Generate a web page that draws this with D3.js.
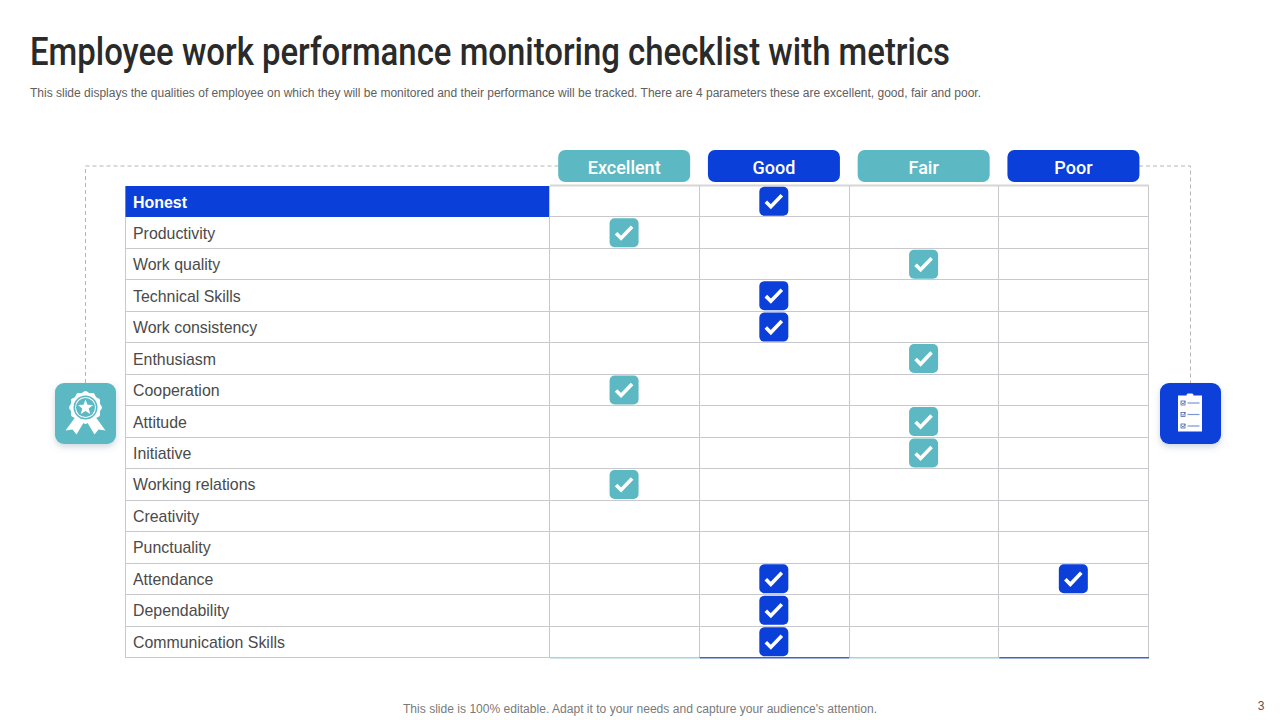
<!DOCTYPE html>
<html>
<head>
<meta charset="utf-8">
<script src="https://cdn.jsdelivr.net/npm/d3@7"></script>
<style>
  html, body { margin: 0; padding: 0; background: #fff; }
  svg { display: block; }
</style>
</head>
<body>
<svg id="chart" width="1280" height="720"></svg>
<script>
const rowLabels = [
  "Honest", "Productivity", "Work quality", "Technical Skills", "Work consistency",
  "Enthusiasm", "Cooperation", "Attitude", "Initiative", "Working relations",
  "Creativity", "Punctuality", "Attendance", "Dependability", "Communication Skills"
];
const columnLabels = ["Excellent", "Good", "Fair", "Poor"];

// which rows are ticked in each column
const excellentRows = ["Productivity", "Cooperation", "Working relations"];
const goodRows = ["Honest", "Technical Skills", "Work consistency", "Attendance", "Dependability", "Communication Skills"];
const fairRows = ["Work quality", "Enthusiasm", "Attitude", "Initiative"];
const poorRows = ["Attendance"];

const titleText = "Employee work performance monitoring checklist with metrics";
const subtitleText = "This slide displays the qualities of employee on which they will be monitored and their performance will be tracked. There are 4 parameters these are excellent, good, fair and poor.";
const footerText = "This slide is 100% editable. Adapt it to your needs and capture your audience's attention.";

const TEAL = "#5cb9c3";
const BLUE = "#0a3fd9";
const GRID = "#c9c9cd";
const columnColor = d3.scaleOrdinal().domain(columnLabels).range([TEAL, BLUE, TEAL, BLUE]);

const svg = d3.select("#chart");
const labelFont = "'Liberation Sans', Arial, sans-serif";

// soft shadow for the two side icons
const shadow = svg.append("defs").append("filter").attr("id", "shadow")
  .attr("x", "-30%").attr("y", "-30%").attr("width", "160%").attr("height", "170%");
shadow.append("feDropShadow").attr("dx", 0).attr("dy", 3).attr("stdDeviation", 3)
  .attr("flood-color", "#5a7f9a").attr("flood-opacity", 0.3);

// scales
const tableLeft = 125.5, labelRight = 550, tableRight = 1149, tableTop = 186, tableBottom = 658;
const x = d3.scaleBand().domain(columnLabels).range([labelRight, tableRight]);
const y = d3.scaleBand().domain(rowLabels).range([tableTop, tableBottom]);

// title block
svg.append("text").attr("x", 30).attr("y", 65)
  .attr("textLength", 920).attr("lengthAdjust", "spacingAndGlyphs")
  .style("font", "500 38px Roboto, sans-serif").style("fill", "#2a2a2a")
  .text(titleText);
svg.append("text").attr("x", 30).attr("y", 97)
  .attr("textLength", 951).attr("lengthAdjust", "spacingAndGlyphs")
  .style("font", `12px ${labelFont}`).style("fill", "#606060")
  .text(subtitleText);

// dashed connectors from the icons to the headers
const connector = d3.line();
const connectors = svg.append("g").attr("fill", "none").attr("stroke", "#b5b5b5").attr("stroke-dasharray", "4 3");
connectors.append("path").attr("d", connector([[85.5, 383], [85.5, 166], [558, 166]]));
connectors.append("path").attr("d", connector([[1139, 166], [1190.5, 166], [1190.5, 383]]));

// grid
const grid = svg.append("g").attr("stroke", GRID).attr("stroke-width", 1);
grid.selectAll(".h").data(rowLabels.slice(1).concat(null)).enter().append("line")
  .attr("x1", tableLeft).attr("x2", (d) => (d ? tableRight : labelRight))
  .attr("y1", (d) => Math.round(d ? y(d) : tableBottom) - 0.5)
  .attr("y2", (d) => Math.round(d ? y(d) : tableBottom) - 0.5);
grid.append("line").attr("x1", labelRight).attr("x2", tableRight)
  .attr("y1", tableTop - 0.5).attr("y2", tableTop - 0.5).attr("stroke-width", 2).attr("stroke", "#d6d6d8");
grid.selectAll(".v").data(columnLabels.concat(null)).enter().append("line")
  .attr("x1", (d) => Math.round(d ? x(d) : tableRight) - 0.5)
  .attr("x2", (d) => Math.round(d ? x(d) : tableRight) - 0.5)
  .attr("y1", tableTop).attr("y2", tableBottom);
grid.append("line").attr("x1", tableLeft).attr("x2", tableLeft)
  .attr("y1", tableTop).attr("y2", tableBottom);

// coloured bottom edge under each column
svg.append("g").selectAll("rect").data(columnLabels).enter().append("rect")
  .attr("x", (d) => x(d)).attr("width", x.bandwidth())
  .attr("y", tableBottom - 1).attr("height", 1.5)
  .attr("fill", (d) => (columnColor(d) === BLUE ? "#3d66c4" : "#a6d6dd"));

// highlighted first row
svg.append("rect").attr("x", tableLeft).attr("y", tableTop)
  .attr("width", labelRight - tableLeft - 1).attr("height", y.bandwidth() - 0.5)
  .attr("fill", BLUE);

// row labels
svg.append("g").selectAll("text").data(rowLabels).enter().append("text")
  .attr("x", 133)
  .attr("y", (d, i) => y(d) + y.bandwidth() / 2 + (i === 0 ? 6 : 5.5))
  .attr("textLength", (d, i) => (i === 0 ? 54 : null))
  .attr("lengthAdjust", "spacingAndGlyphs")
  .style("font", (d, i) => `${i === 0 ? "bold " : ""}15.9px ${labelFont}`)
  .style("fill", (d, i) => (i === 0 ? "#fff" : "#4a4a4a"))
  .text((d) => d);

// column header pills
const pillWidth = 132, pillHeight = 32;
const pills = svg.append("g").selectAll("g").data(columnLabels).enter().append("g")
  .attr("transform", (d) => `translate(${x(d) + x.bandwidth() / 2 - 0.7},150)`);
pills.append("rect").attr("x", -pillWidth / 2).attr("width", pillWidth).attr("height", pillHeight)
  .attr("rx", 7).attr("fill", (d) => columnColor(d));
pills.append("text").attr("y", 23.5).attr("text-anchor", "middle")
  .style("font", "500 18px Roboto, sans-serif").style("fill", "#fff")
  .text((d) => d);

// tick marks
const checks = [
  ...excellentRows.map((row) => ({ row, column: "Excellent" })),
  ...goodRows.map((row) => ({ row, column: "Good" })),
  ...fairRows.map((row) => ({ row, column: "Fair" })),
  ...poorRows.map((row) => ({ row, column: "Poor" }))
];
const boxSize = 29;
const tick = svg.append("g").selectAll("g").data(checks).enter().append("g")
  .attr("transform", (d) => `translate(${x(d.column) + x.bandwidth() / 2 - 0.8},${y(d.row) + y.bandwidth() / 2 - 0.5})`);
tick.append("rect").attr("x", -boxSize / 2).attr("y", -boxSize / 2)
  .attr("width", boxSize).attr("height", boxSize).attr("rx", 5)
  .attr("fill", (d) => columnColor(d.column));
tick.append("path").attr("d", connector([[-8, 0.5], [-3, 5.5], [8, -6]]))
  .attr("fill", "none").attr("stroke", "#fff").attr("stroke-width", 3.6);

// award icon on the left
const award = svg.append("g").attr("transform", "translate(85.5,413.5)");
award.append("rect").attr("x", -30.5).attr("y", -30.5).attr("width", 61).attr("height", 61).attr("rx", 9)
  .attr("fill", TEAL).attr("filter", "url(#shadow)");
award.append("path").attr("d", "M-9,2 L-20,17 L-13,16 L-9,21 L0,6 L9,21 L13,16 L20,17 L9,2 Z").attr("fill", "#fff");
const scallop = d3.lineRadial().curve(d3.curveCardinalClosed)
  .angle((d) => d * Math.PI / 12).radius((d) => (d % 2 ? 15 : 16.5));
award.append("path").attr("transform", "translate(0,-6)").attr("d", scallop(d3.range(24))).attr("fill", "#fff");
award.append("circle").attr("cy", -6).attr("r", 12).attr("fill", TEAL);
award.append("circle").attr("cy", -6).attr("r", 10.5).attr("fill", "#fff");
award.append("circle").attr("cy", -6).attr("r", 9.5).attr("fill", TEAL);
const star = d3.lineRadial().angle((d) => d * Math.PI / 5).radius((d) => (d % 2 ? 3.4 : 8));
award.append("path").attr("transform", "translate(0,-6)").attr("d", star(d3.range(10)) + "Z").attr("fill", "#fff");

// clipboard icon on the right
const clip = svg.append("g").attr("transform", "translate(1190.5,413.5)");
clip.append("rect").attr("x", -30.5).attr("y", -30.5).attr("width", 61).attr("height", 61).attr("rx", 9)
  .attr("fill", BLUE).attr("filter", "url(#shadow)");
clip.append("rect").attr("x", -12.5).attr("y", -18).attr("width", 24).attr("height", 36).attr("fill", "#fff");
clip.append("rect").attr("x", -4).attr("y", -20).attr("width", 7).attr("height", 3).attr("rx", 1.5).attr("fill", "#fff");
const clipRows = clip.selectAll(".item").data([-10, 1.5, 13]).enter().append("g")
  .attr("transform", (d) => `translate(0,${d - 0.5})`);
clipRows.append("rect").attr("x", -9.5).attr("y", -2).attr("width", 4).attr("height", 4)
  .attr("fill", "none").attr("stroke", "#4a64ad").attr("stroke-width", 0.8);
clipRows.append("path").attr("d", connector([[-9, -0.5], [-7.5, 1], [-5, -2]]))
  .attr("fill", "none").attr("stroke", "#4a64ad").attr("stroke-width", 0.8);
clipRows.append("line").attr("x1", -3).attr("x2", 9).attr("stroke", "#7e95d6").attr("stroke-width", 1.2);

// footer
svg.append("text").attr("x", 403).attr("y", 713)
  .attr("textLength", 474).attr("lengthAdjust", "spacingAndGlyphs")
  .style("font", `12px ${labelFont}`).style("fill", "#7a7a7a")
  .text(footerText);
svg.append("text").attr("x", 1261).attr("y", 710).attr("text-anchor", "middle")
  .style("font", `12px ${labelFont}`).style("fill", "#555")
  .text("3");
</script>
</body>
</html>
